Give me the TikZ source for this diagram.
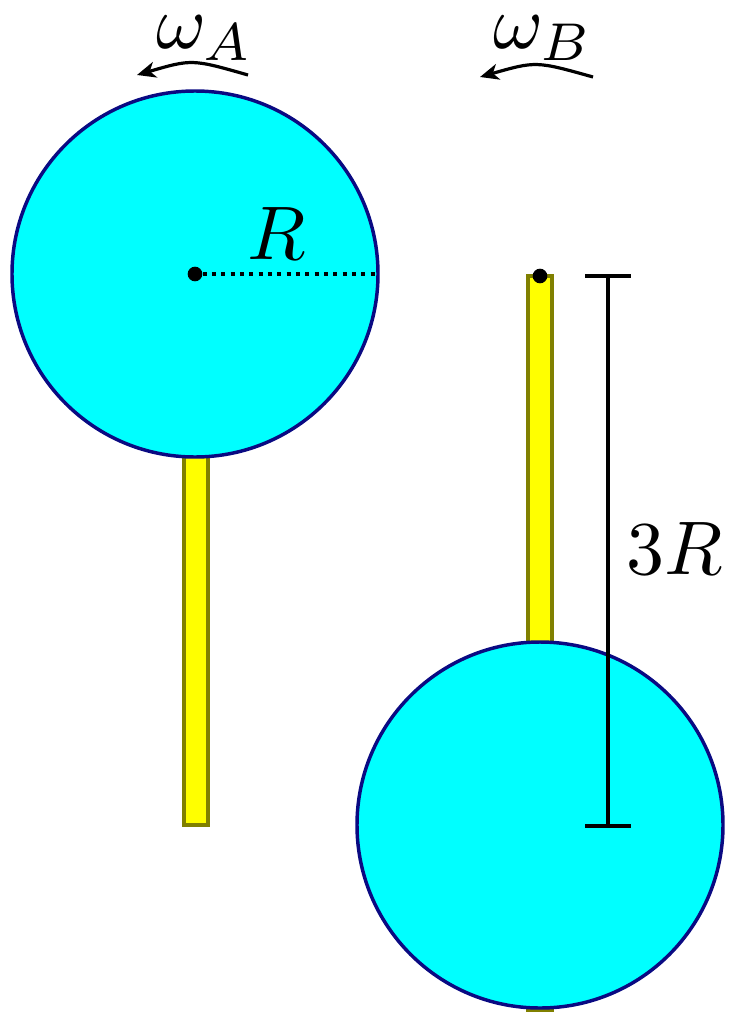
\documentclass[tikz,border=0pt]{standalone}
\usetikzlibrary{arrows.meta}
\definecolor{disc}{RGB}{0,255,255}
\definecolor{rim}{RGB}{10,10,130}
\definecolor{rodfill}{RGB}{255,255,0}
\definecolor{rodrim}{RGB}{128,128,0}
\tikzset{
  rodbox/.style={fill=rodfill,draw=rodrim,line width=2.8pt},
  diskbox/.style={circle,fill=disc,draw=rim,line width=2.6pt,minimum size=366*0.75pt,inner sep=0pt},
  pivot/.style={circle,fill=black,inner sep=0pt,minimum size=11pt},
  bigtxt/.style={scale=5.7,inner sep=0pt},
  dimline/.style={line width=2.8pt},
  spinarrow/.style={line width=2.4pt,-{Stealth[length=14pt,width=12pt,inset=4pt]}}
}
\begin{document}
\begin{tikzpicture}[x=0.75pt,y=-0.75pt]
\useasboundingbox (0,0) rectangle (737,1024);
% rods
\draw[rodbox] (184,274) rectangle (208,825);
\draw[rodbox] (528,276) rectangle (552,1010);
% disks
\node[diskbox] (cA) at (195,274) {};
\node[diskbox] (cB) at (540,825) {};
% pivots
\node[pivot] (pA) at (195,274) {};
\node[pivot] (pB) at (540,276) {};
% radius
\draw[line width=3pt,dash pattern=on 3pt off 4pt] (pA.east) -- (cA.east);
\node[bigtxt] (lR) at (277,234) {$R$};
% dimension
\coordinate (dTop) at (608,276);
\coordinate (dBot) at (608,826);
\draw[dimline] (dTop) -- (dBot);
\draw[dimline] ([xshift=-23*0.75pt]dTop) -- ([xshift=23*0.75pt]dTop);
\draw[dimline] ([xshift=-23*0.75pt]dBot) -- ([xshift=23*0.75pt]dBot);
\node[bigtxt] (l3R) at (675,549) {$3R$};
% angular velocities
\node[bigtxt] (wA) at (205,38) {$\omega_A$};
\node[bigtxt] (wB) at (543,38) {$\omega_B$};
\coordinate (aAs) at (248,75);
\coordinate (aAe) at (137,75);
\coordinate (aBs) at (593,77);
\coordinate (aBe) at (480,77);
\draw[spinarrow] (aAs) .. controls (192,59) .. (aAe);
\draw[spinarrow] (aBs) .. controls (536,61) .. (aBe);
\end{tikzpicture}
\end{document}
